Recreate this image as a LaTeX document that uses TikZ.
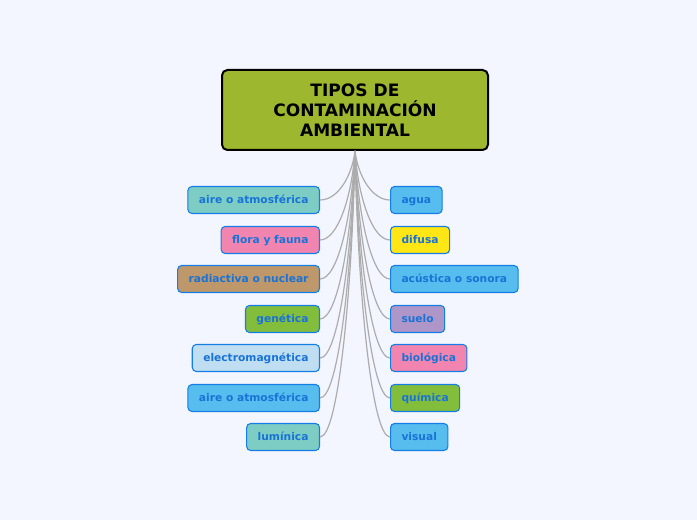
\documentclass[tikz,border=0pt]{standalone}
\usepackage{fontspec}
\setmainfont{DejaVu Sans}
\usepackage{xcolor}
\usepackage{tikz}
\usetikzlibrary{positioning}
\definecolor{bgcolor}{RGB}{243,246,254}
\definecolor{rootgreen}{RGB}{157,183,46}
\definecolor{tealleaf}{RGB}{126,205,196}
\definecolor{pinkleaf}{RGB}{242,133,175}
\definecolor{tanleaf}{RGB}{190,152,106}
\definecolor{greenleaf}{RGB}{130,190,60}
\definecolor{paleleaf}{RGB}{192,222,242}
\definecolor{blueleaf}{RGB}{86,189,238}
\definecolor{yellowleaf}{RGB}{255,230,20}
\definecolor{purpleleaf}{RGB}{175,150,200}
\definecolor{textblue}{RGB}{25,115,215}
\definecolor{leafborder}{RGB}{20,125,230}
\definecolor{edgegray}{RGB}{172,172,172}

\begin{document}
\begin{tikzpicture}[
    x=0.75pt, y=0.75pt,
    root/.style={draw=black, line width=1.5pt, rounded corners=4pt, fill=rootgreen, minimum width=199.5pt, minimum height=60pt, align=center, font=\fontsize{12.8}{14.8}\selectfont\bfseries},
    leaf/.style={draw=leafborder, line width=0.8pt, rounded corners=3pt, minimum height=20.25pt, inner xsep=8.25pt, text height=6.6pt, text depth=1.6pt, text=textblue, font=\fontsize{8}{10}\selectfont\bfseries},
    link/.style={draw=edgegray, line width=0.9pt}
]
    % Background
    \fill[bgcolor] (0,0) rectangle (697,-520);

    % Root
    \node[root] (root) at (355,-110) {TIPOS DE\\CONTAMINACIÓN\\AMBIENTAL};

    % Left branch
    \node[leaf, fill=tealleaf, anchor=east] (air) at (320,-200) {aire o atmosférica};
    \node[leaf, fill=pinkleaf, anchor=east] (flora) at (320,-240) {flora y fauna};
    \node[leaf, fill=tanleaf, anchor=east] (radio) at (320,-279) {radiactiva o nuclear};
    \node[leaf, fill=greenleaf, anchor=east] (genetic) at (320,-319) {genética};
    \node[leaf, fill=paleleaf, anchor=east] (electro) at (320,-358) {electromagnética};
    \node[leaf, fill=blueleaf, anchor=east] (airtwo) at (320,-398) {aire o atmosférica};
    \node[leaf, fill=tealleaf, anchor=east] (light) at (320,-437) {lumínica};

    % Right branch
    \node[leaf, fill=blueleaf, anchor=west] (water) at (390,-200) {agua};
    \node[leaf, fill=yellowleaf, anchor=west] (diffuse) at (390,-240) {difusa};
    \node[leaf, fill=blueleaf, anchor=west] (sound) at (390,-279) {acústica o sonora};
    \node[leaf, fill=purpleleaf, anchor=west] (soil) at (390,-319) {suelo};
    \node[leaf, fill=pinkleaf, anchor=west] (bio) at (390,-358) {biológica};
    \node[leaf, fill=greenleaf, anchor=west] (chem) at (390,-398) {química};
    \node[leaf, fill=blueleaf, anchor=west] (visual) at (390,-437) {visual};

    % Links
    \draw[link] (root.south) .. controls +(-3,-25) and +(18,0) .. (air.east);
    \draw[link] (root.south) .. controls +(-3,-45) and +(18,0) .. (flora.east);
    \draw[link] (root.south) .. controls +(-3,-65) and +(18,0) .. (radio.east);
    \draw[link] (root.south) .. controls +(-3,-85) and +(18,0) .. (genetic.east);
    \draw[link] (root.south) .. controls +(-3,-105) and +(18,0) .. (electro.east);
    \draw[link] (root.south) .. controls +(-3,-125) and +(18,0) .. (airtwo.east);
    \draw[link] (root.south) .. controls +(-3,-145) and +(18,0) .. (light.east);
    \draw[link] (root.south) .. controls +(3,-25) and +(-18,0) .. (water.west);
    \draw[link] (root.south) .. controls +(3,-45) and +(-18,0) .. (diffuse.west);
    \draw[link] (root.south) .. controls +(3,-65) and +(-18,0) .. (sound.west);
    \draw[link] (root.south) .. controls +(3,-85) and +(-18,0) .. (soil.west);
    \draw[link] (root.south) .. controls +(3,-105) and +(-18,0) .. (bio.west);
    \draw[link] (root.south) .. controls +(3,-125) and +(-18,0) .. (chem.west);
    \draw[link] (root.south) .. controls +(3,-145) and +(-18,0) .. (visual.west);
\end{tikzpicture}
\end{document}
